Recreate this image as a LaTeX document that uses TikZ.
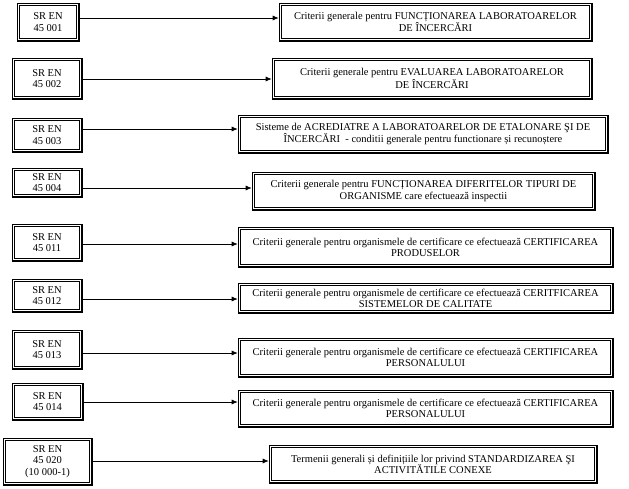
\documentclass[tikz,border=0pt]{standalone}
\usepackage{fontspec}
\setmainfont{Liberation Serif}
\usetikzlibrary{arrows.meta}
\tikzset{
  dbox/.style={draw, line width=0.6pt, double distance=1.6pt, inner sep=0pt,
    align=center, font=\fontsize{10.5}{11.2}\selectfont},
  conn/.style={-{Latex[length=6pt,width=5pt]}, line width=0.7pt,
    shorten <=1.4pt, shorten >=1.4pt},
  shadeline/.style={line width=1.1pt}
}
% box by its outer edges: name, x1, x2, y1, y2, text
\newcommand\mybox[6]{%
  \node[dbox, minimum width={#3pt-#2pt-2.8pt}, minimum height={#5pt-#4pt-2.8pt}]
    (#1) at ({(#2+#3)/2},{(#4+#5)/2}) {#6};}
\begin{document}
\begin{tikzpicture}[x=1pt,y=-1pt]
\useasboundingbox (0,0) rectangle (629,488);
% left boxes
\mybox{l1}{17}{79}{3}{41}{SR EN\\45 001}
\mybox{l2}{12}{82}{58}{99}{\fontsize{10.5}{14}\selectfont SR EN\\45 002}
\mybox{l3}{12}{82}{118}{152}{SR EN\\45 003}
\mybox{l4}{12}{82}{168}{197}{SR EN\\45 004}
\mybox{l5}{12}{82}{224}{261}{SR EN\\45 011}
\mybox{l6}{12}{82}{279}{312}{SR EN\\45 012}
\mybox{l7}{12}{82}{330}{369}{SR EN\\45 013}
\mybox{l8}{12}{83}{383}{420}{SR EN\\45 014}
\mybox{l9}{3}{92}{438}{485}{\fontsize{10.5}{12}\selectfont SR EN\\45 020\\(10 000-1)}
% right boxes
\mybox{r1}{279}{592}{3}{41}{Criterii generale pentru FUNCȚIONAREA LABORATOARELOR\\DE ÎNCERCĂRI}
\mybox{r2}{272}{592}{58}{99}{Criterii generale pentru EVALUAREA LABORATOARELOR\\DE ÎNCERCĂRI}
\mybox{r3}{238}{608}{115}{153}{Sisteme de ACREDIATRE A LABORATOARELOR DE ETALONARE ŞI DE\\ÎNCERCĂRI\ \ - conditii generale pentru functionare și recunoștere}
\mybox{r4}{252}{595}{172}{210}{Criterii generale pentru FUNCȚIONAREA DIFERITELOR TIPURI DE\\ORGANISME care efectuează inspectii}
\mybox{r5}{238}{613}{227}{267}{Criterii generale pentru organismele de certificare ce efectuează CERTIFICAREA\\PRODUSELOR}
\mybox{r6}{238}{613}{283}{313}{Criterii generale pentru organismele de certificare ce efectuează CERITFICAREA\\SISTEMELOR DE CALITATE}
\mybox{r7}{238}{613}{338}{377}{Criterii generale pentru organismele de certificare ce efectuează CERTIFICAREA\\PERSONALULUI}
\mybox{r8}{238}{613}{390}{427}{Criterii generale pentru organismele de certificare ce efectuează CERTIFICAREA\\PERSONALULUI}
\mybox{r9}{269}{597}{445}{483}{Termenii generali și definițiile lor privind STANDARDIZAREA ŞI\\ACTIVITĂTILE CONEXE}
% heavier bottom and right edges
\foreach \n in {l1,l2,l3,l4,l5,l6,l7,l8,l9,r1,r2,r3,r4,r5,r6,r7,r8,r9}
  \draw[shadeline] ([shift={(-0.8pt,-1.7pt)}]\n.south west) -| ([shift={(1.7pt,0.8pt)}]\n.north east);
% connectors
\foreach \i/\dy in {1/4,2/-0.5,3/6,4/-5.5,5/-1.5,6/-3.5,7/-3.5,8/-0.5,9/0.5}{
  \coordinate (s\i) at ([yshift=\dy pt]l\i.east);
  \draw[conn] (s\i) -- (s\i -| r\i.west);
}
\end{tikzpicture}
\end{document}
